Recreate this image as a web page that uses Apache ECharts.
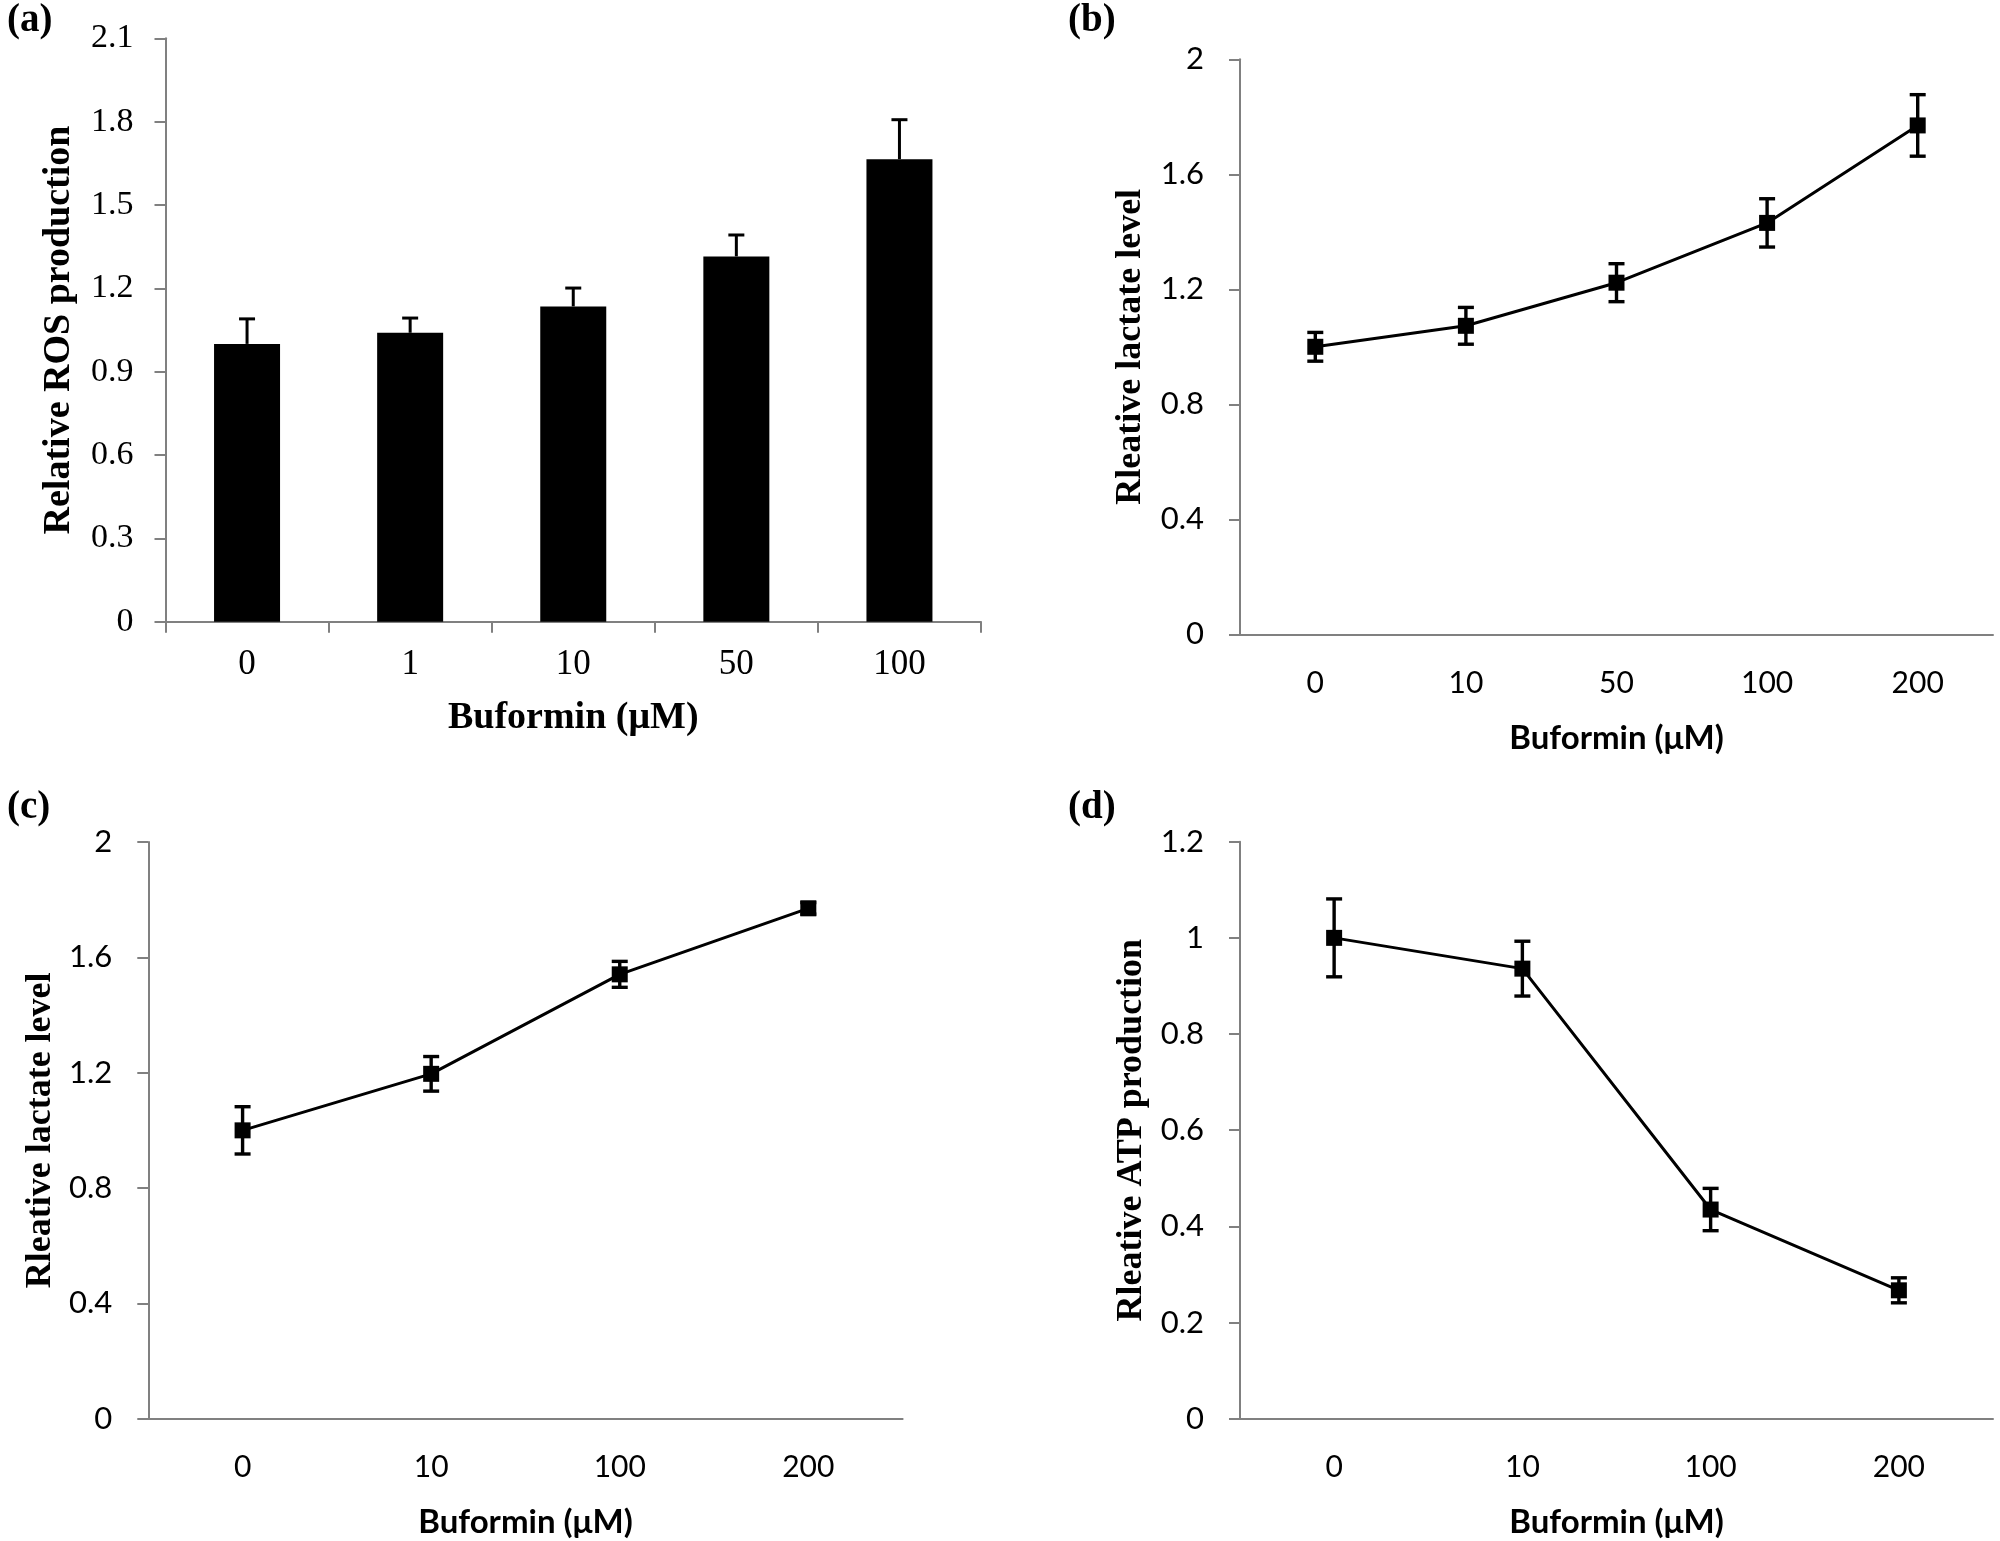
<!DOCTYPE html>
<html>
<head>
<meta charset="utf-8">
<script src="https://cdn.jsdelivr.net/npm/echarts@6/dist/echarts.min.js"></script>
<style>
html,body{margin:0;padding:0;background:#fff;}
#chart{width:2000px;height:1541px;}
</style>
</head>
<body>
<div id="chart"></div>
<script>
// ---- Data ----
const catsA = ['0', '1', '10', '50', '100'];
const rosMean = [1.00, 1.04, 1.135, 1.315, 1.665];
const rosErr = [0.09, 0.053, 0.066, 0.077, 0.142];
const ticksA = [0, 0.3, 0.6, 0.9, 1.2, 1.5, 1.8, 2.1];

const catsB = ['0', '10', '50', '100', '200'];
const lactB = [1.00, 1.073, 1.223, 1.431, 1.770];
const errB = [0.05, 0.064, 0.066, 0.084, 0.107];
const ticksB = [0, 0.4, 0.8, 1.2, 1.6, 2];

const catsC = ['0', '10', '100', '200'];
const lactC = [1.00, 1.196, 1.541, 1.770];
const errC = [0.082, 0.06, 0.045, 0.02];
const ticksC = [0, 0.4, 0.8, 1.2, 1.6, 2];

const catsD = ['0', '10', '100', '200'];
const atpD = [1.00, 0.936, 0.435, 0.267];
const errD = [0.081, 0.057, 0.044, 0.026];
const ticksD = [0, 0.2, 0.4, 0.6, 0.8, 1, 1.2];

const xTitle = 'Buformin (μM)';
const yTitles = ['Relative ROS production', 'Rleative lactate level', 'Rleative lactate level', 'Rleative ATP production'];
const panelLabels = ['(a)', '(b)', '(c)', '(d)'];

// ---- Styles ----
const SERIF = '"Liberation Serif", "Times New Roman", serif';
const SANS = 'Lato, "Open Sans", sans-serif';
const AXIS_GRAY = '#808080';

const chart = echarts.init(document.getElementById('chart'), null, {renderer: 'canvas'});

function yAxisCfg(idx, ticks, name, labelFont, labelSize, margin, nameGap, nameSize) {
  return {
    type: 'value', gridIndex: idx,
    min: ticks[0], max: ticks[ticks.length - 1], interval: ticks[1] - ticks[0],
    axisLine: {show: true, lineStyle: {color: AXIS_GRAY, width: 2}},
    axisTick: {show: true, length: 11, lineStyle: {color: AXIS_GRAY, width: 2}},
    splitLine: {show: false},
    axisLabel: {fontFamily: labelFont, fontSize: labelSize, color: '#000', margin: margin},
    name: name, nameLocation: 'middle', nameGap: nameGap,
    nameTextStyle: {fontFamily: SERIF, fontWeight: 'bold', fontSize: nameSize, color: '#000'}
  };
}
function xAxisCfg(idx, cats, labelFont, labelSize, margin, showTick, nameFont, nameSize, nameGap) {
  return {
    type: 'category', gridIndex: idx, data: cats, boundaryGap: true,
    axisLine: {show: true, lineStyle: {color: AXIS_GRAY, width: 2}},
    axisTick: {show: showTick, length: 11, interval: 0, lineStyle: {color: AXIS_GRAY, width: 2}},
    axisLabel: {fontFamily: labelFont, fontSize: labelSize, color: '#000', margin: margin, interval: 0},
    splitLine: {show: false},
    name: xTitle, nameLocation: 'middle', nameGap: nameGap,
    nameTextStyle: {fontFamily: nameFont, fontWeight: 'bold', fontSize: nameSize, color: '#000'}
  };
}

function errData(means, errs) {
  return means.map((m, i) => [i, m, errs[i]]);
}
function upErrRender(params, api) {
  const x = api.value(0), m = api.value(1), e = api.value(2);
  const p0 = api.coord([x, m]);
  const p1 = api.coord([x, m + e]);
  const hw = 8;
  const st = {stroke: '#000', lineWidth: 3};
  return {type: 'group', children: [
    {type: 'line', shape: {x1: p0[0], y1: p0[1], x2: p1[0], y2: p1[1]}, style: st},
    {type: 'line', shape: {x1: p1[0] - hw, y1: p1[1], x2: p1[0] + hw, y2: p1[1]}, style: st}
  ]};
}
function symErrRender(params, api) {
  const x = api.value(0), m = api.value(1), e = api.value(2);
  const pt = api.coord([x, m + e]);
  const pb = api.coord([x, m - e]);
  const hw = 8;
  const st = {stroke: '#000', lineWidth: 3.4};
  return {type: 'group', children: [
    {type: 'line', shape: {x1: pt[0], y1: pt[1], x2: pb[0], y2: pb[1]}, style: st},
    {type: 'line', shape: {x1: pt[0] - hw, y1: pt[1], x2: pt[0] + hw, y2: pt[1]}, style: st},
    {type: 'line', shape: {x1: pb[0] - hw, y1: pb[1], x2: pb[0] + hw, y2: pb[1]}, style: st}
  ]};
}
function lineSeries(idx, vals) {
  return {
    type: 'line', xAxisIndex: idx, yAxisIndex: idx, data: vals,
    symbol: 'rect', symbolSize: 16, z: 3,
    lineStyle: {color: '#000', width: 3},
    itemStyle: {color: '#000'}
  };
}
function errSeries(idx, means, errs, render) {
  return {
    type: 'custom', xAxisIndex: idx, yAxisIndex: idx,
    data: errData(means, errs), renderItem: render, z: 4,
    encode: {x: 0, y: 1}
  };
}

const labelPos = [[7, 1], [1068, 1], [7, 788], [1068, 788]];

const option = {
  animation: false,
  backgroundColor: '#ffffff',
  title: panelLabels.map((t, i) => ({
    text: t, left: labelPos[i][0], top: labelPos[i][1], padding: 0,
    textStyle: {fontFamily: SERIF, fontWeight: 'bold', fontSize: 39, color: '#000'}
  })),
  grid: [
    {left: 165.5, top: 38.3, width: 815.5, height: 583.4},
    {left: 1240, top: 59.3, width: 753, height: 575},
    {left: 148.3, top: 842, width: 754.3, height: 576.7},
    {left: 1240, top: 841.7, width: 753, height: 577}
  ],
  xAxis: [
    xAxisCfg(0, catsA, SERIF, 35, 26, true, SERIF, 38, 77),
    xAxisCfg(1, catsB, SANS, 30, 34, false, SANS, 33, 88),
    xAxisCfg(2, catsC, SANS, 30, 34, false, SANS, 33, 87),
    xAxisCfg(3, catsD, SANS, 30, 34, false, SANS, 33, 87)
  ],
  yAxis: [
    yAxisCfg(0, ticksA, yTitles[0], SERIF, 34, 32, 87, 38),
    yAxisCfg(1, ticksB, yTitles[1], SANS, 31, 36, 91, 36),
    yAxisCfg(2, ticksC, yTitles[2], SANS, 31, 36, 90, 36),
    yAxisCfg(3, ticksD, yTitles[3], SANS, 31, 36, 90, 36)
  ],
  series: [
    {type: 'bar', xAxisIndex: 0, yAxisIndex: 0, data: rosMean, barWidth: 66,
     itemStyle: {color: '#000'}, z: 2},
    errSeries(0, rosMean, rosErr, upErrRender),
    lineSeries(1, lactB), errSeries(1, lactB, errB, symErrRender),
    lineSeries(2, lactC), errSeries(2, lactC, errC, symErrRender),
    lineSeries(3, atpD), errSeries(3, atpD, errD, symErrRender)
  ]
};
chart.setOption(option);
</script>
</body>
</html>
